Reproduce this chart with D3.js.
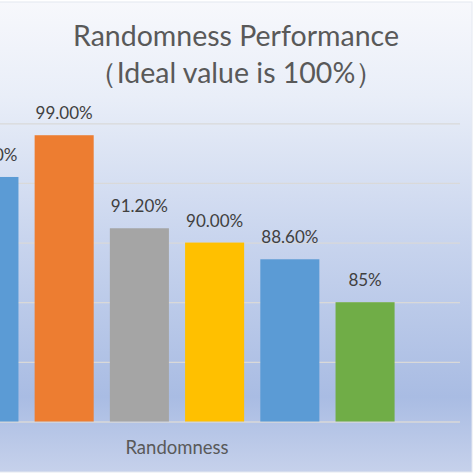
<!DOCTYPE html>
<html>
<head>
<meta charset="utf-8">
<script src="https://cdn.jsdelivr.net/npm/d3@7"></script>
<style>
  html, body { margin: 0; padding: 0; background: #ffffff; }
  svg { display: block; }
</style>
</head>
<body>
<script>
(function() {
    "use strict";

    //one category, six series (the picture is cropped on the left)
    var categories = ["Randomness"];
    var seriesNames = ["Series 1", "Series 2", "Series 3", "Series 4", "Series 5", "Series 6"];
    var seriesValues = [95.5, 99.0, 91.2, 90.0, 88.6, 85.0];
    var valueLabels = ["95.50%", "99.00%", "91.20%", "90.00%", "88.60%", "85%"];
    var seriesColors = ["#5b9bd5", "#ed7d31", "#a5a5a5", "#ffc000", "#5b9bd5", "#70ad47"];
    var yTicks = [75, 80, 85, 90, 95, 100];
    var titleLines = ["Randomness Performance", "\uff08Ideal value is 100%\uff09"];

    var WIDTH = 474;
    var HEIGHT = 474;
    var FONT = "Lato, 'Noto Sans', sans-serif";

    //plot area, left side falls outside the visible window
    var PLOT_LEFT = -106;
    var PLOT_RIGHT = 460;
    var PLOT_TOP = 123.3;
    var PLOT_BOTTOM = 421.5;

    var svg = d3.select("body").append("svg")
        .attr("width", WIDTH)
        .attr("height", HEIGHT);

    //background gradient of the chart area
    var grad = svg.append("defs").append("linearGradient")
        .attr("id", "bg")
        .attr("x1", 0).attr("y1", 0).attr("x2", 0).attr("y2", 1);
    [[0, "#f7f8fc"], [0.2, "#e9eef8"], [0.5, "#c9d5ee"], [0.84, "#a9bce3"], [1, "#c6d1eb"]]
        .forEach(function(s) {
            grad.append("stop").attr("offset", s[0]).attr("stop-color", s[1]);
        });

    svg.append("rect")
        .attr("x", -10)
        .attr("y", 2)
        .attr("width", 482)
        .attr("height", 470)
        .attr("fill", "url(#bg)")
        .attr("stroke", "#e4e8f0")
        .attr("stroke-width", 1);

    //scales
    var y = d3.scaleLinear()
        .domain([75, 100])
        .range([PLOT_BOTTOM, PLOT_TOP]);

    var x0 = d3.scaleBand()
        .domain(categories)
        .range([PLOT_LEFT, PLOT_RIGHT])
        .paddingOuter(0.127);

    var x1 = d3.scaleBand()
        .domain(seriesNames)
        .range([0, x0.bandwidth()])
        .paddingInner(0.215)
        .paddingOuter(0.1075);

    //gridlines drawn with an axis
    var grid = svg.append("g")
        .attr("transform", "translate(" + PLOT_LEFT + ",0)")
        .call(d3.axisRight(y)
            .tickValues(yTicks)
            .tickSize(PLOT_RIGHT - PLOT_LEFT)
            .tickFormat(""));
    grid.select(".domain").remove();
    grid.selectAll(".tick line")
        .attr("stroke", "#d9d9d9")
        .attr("stroke-width", 1.3);

    //bars
    var data = seriesNames.map(function(name, i) {
        return { name: name, value: seriesValues[i], label: valueLabels[i], color: seriesColors[i] };
    });

    var group = svg.append("g")
        .attr("transform", "translate(" + x0(categories[0]) + ",0)");

    group.selectAll("rect")
        .data(data)
        .enter()
        .append("rect")
        .attr("x", function(d) { return x1(d.name); })
        .attr("y", function(d) { return y(d.value); })
        .attr("width", x1.bandwidth())
        .attr("height", function(d) { return y(75) - y(d.value); })
        .attr("fill", function(d) { return d.color; });

    //value labels above every bar
    group.selectAll("text")
        .data(data)
        .enter()
        .append("text")
        .attr("x", function(d) { return x1(d.name) + x1.bandwidth() / 2; })
        .attr("y", function(d) { return y(d.value) - 16; })
        .attr("text-anchor", "middle")
        .attr("font-family", FONT)
        .attr("font-size", 17)
        .attr("fill", "#404040")
        .text(function(d) { return d.label; });

    //category axis label
    var xAxis = svg.append("g")
        .attr("transform", "translate(0," + PLOT_BOTTOM + ")")
        .call(d3.axisBottom(x0).tickSize(0).tickPadding(19));
    xAxis.select(".domain").remove();
    xAxis.selectAll("text")
        .attr("font-family", FONT)
        .attr("font-size", 18.5)
        .attr("fill", "#595959");

    //title
    svg.append("g").selectAll("text")
        .data(titleLines)
        .enter()
        .append("text")
        .attr("x", 236)
        .attr("y", function(d, i) { return 46 + i * 37; })
        .attr("text-anchor", "middle")
        .attr("font-family", FONT)
        .attr("font-size", 28.5)
        .attr("fill", "#595959")
        .text(function(d) { return d; });
}());
</script>
</body>
</html>
